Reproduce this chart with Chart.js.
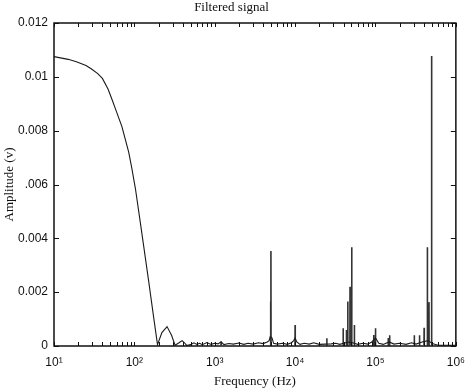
<!DOCTYPE html>
<html>
<head>
<meta charset="utf-8">
<title>Filtered signal</title>
<script src="https://cdn.jsdelivr.net/npm/chart.js@4/dist/chart.umd.min.js"></script>
<style>
  body { margin: 0; background: #fff; }
  #wrap { width: 474px; height: 390px; }
</style>
</head>
<body>
<div id="wrap"><canvas id="chart"></canvas></div>
<script>
// low frequency response + noise floor (Hz / volts)
var curveFreq = [10, 15, 19, 25, 29, 35, 40, 47, 53, 60, 70, 85, 93, 103, 120, 150, 175, 194,
                 220, 255, 290, 321, 360, 392, 420, 447,
                 500, 550, 600, 650, 700, 800, 900, 1000, 1100, 1200, 1300, 1500, 1700, 2000,
                 2300, 2600, 3000, 3500, 4000, 4500, 4750, 4900, 5150, 5400,
                 6000, 7000, 8000, 9000, 9600, 10000, 10500, 11500, 13000, 15000, 17000, 20000,
                 28000, 32000, 36000, 40000, 47000, 52000, 60000, 70000, 80000, 90000, 100000,
                 110000, 125000, 148000, 170000, 200000, 240000, 280000, 320000, 380000, 450000,
                 520000, 600000, 700000, 1000000];
var curveAmp = [0.01075, 0.01065, 0.01056, 0.01042, 0.0103, 0.01012, 0.00994, 0.00955, 0.00914,
                0.0087, 0.00815, 0.0072, 0.0066, 0.00585, 0.00448, 0.00245, 0.0010, 0.00005,
                0.0005, 0.00072, 0.0004, 0.00003, 0.00012, 0.0002, 0.00012, 0.00002,
                0.00005, 0.00012, 0.00006, 0.0001, 0.00005, 0.00013, 0.00006, 0.0001, 0.00008,
                0.00016, 0.00005, 0.00009, 0.00007, 0.00011, 0.00006, 0.0001, 0.00007, 0.00012,
                0.00009, 0.00015, 0.0002, 0.00035, 0.0003, 0.0001,
                0.00007, 0.0001, 0.00006, 0.00012, 0.0002, 0.0003, 0.00015, 0.00006, 0.0001,
                0.00007, 0.00012, 0.00006,
                0.00008, 0.0001, 0.00006, 0.0001, 0.00015, 0.00012, 0.00006, 0.0001, 0.00007,
                0.00015, 0.0003, 0.0001, 0.00006, 0.00015, 0.00007, 0.0001, 0.00006, 0.00012,
                0.00007, 0.00015, 0.0002, 0.00008, 0.00003, 0.00003, 0.00003];

// narrow harmonic spikes
var spikeFreq = [1200, 4960, 5000, 10000, 24800, 39600, 43500, 45200, 48200, 50600, 54600,
                 95000, 97000, 100000, 144000, 150000, 304000, 353000, 403000, 442000,
                 463000, 499000];
var spikeAmp = [0.00016, 0.00165, 0.00353, 0.00078, 0.00029, 0.00066, 0.00059, 0.00165, 0.0022,
                0.00367, 0.00078, 0.00041, 0.00022, 0.00066, 0.0003, 0.0004, 0.0004, 0.0004,
                0.00068, 0.00367, 0.00163, 0.01077];

var yTickValues = [0, 0.002, 0.004, 0.006, 0.008, 0.01, 0.012];
var yTickLabels = ['0', '0.002', '0.004', '.006', '0.008', '0.01', '0.012'];
var xDecadeLabels = {1: '10\u00b9', 2: '10\u00b2', 3: '10\u00b3', 4: '10\u2074', 5: '10\u2075', 6: '10\u2076'};

var curvePoints = curveFreq.map(function(f, i) { return {x: f, y: curveAmp[i]}; });

// each spike is a thin up/down stroke, broken from the next by a null point
var spikePoints = [];
spikeFreq.forEach(function(f, i) {
    spikePoints.push({x: f * 0.996, y: 0.00003});
    spikePoints.push({x: f, y: spikeAmp[i]});
    spikePoints.push({x: f * 1.004, y: 0.00003});
    spikePoints.push({x: f * 1.005, y: null});
});

// closed box with inward ticks on all four sides, matlab style
var boxTicks = {
    id: 'boxTicks',
    afterDatasetsDraw: function(chart) {
        var ctx = chart.ctx, a = chart.chartArea;
        var xs = chart.scales.x, ys = chart.scales.y;
        ctx.save();
        ctx.strokeStyle = '#111';
        ctx.lineWidth = 1;
        ctx.beginPath();
        xs.ticks.forEach(function(t) {
            var px = Math.round(xs.getPixelForValue(t.value)) + 0.5;
            ctx.moveTo(px, a.bottom); ctx.lineTo(px, a.bottom - 4);
            ctx.moveTo(px, a.top); ctx.lineTo(px, a.top + 4);
        });
        ys.ticks.forEach(function(t) {
            var py = Math.round(ys.getPixelForValue(t.value)) + 0.5;
            ctx.moveTo(a.left, py); ctx.lineTo(a.left + 5, py);
            ctx.moveTo(a.right, py); ctx.lineTo(a.right - 5, py);
        });
        ctx.stroke();
        ctx.lineWidth = 1.5;
        ctx.strokeRect(a.left, a.top, a.right - a.left, a.bottom - a.top);
        ctx.restore();
    }
};

new Chart(document.getElementById('chart'), {
    type: 'line',
    data: {
        datasets: [
            {data: curvePoints, borderColor: '#1a1a1a', borderWidth: 1.1},
            {data: spikePoints, borderColor: '#333', borderWidth: 1.6, spanGaps: false}
        ]
    },
    options: {
        responsive: true,
        maintainAspectRatio: false,
        animation: false,
        layout: {padding: {top: 0, right: 11, bottom: 0, left: 0}},
        elements: {point: {radius: 0}, line: {tension: 0}},
        plugins: {
            legend: {display: false},
            tooltip: {enabled: false},
            title: {
                display: true,
                text: 'Filtered signal',
                color: '#111',
                font: {family: 'Liberation Serif', size: 13, weight: 'normal'},
                padding: {top: 0, bottom: 7.4}
            }
        },
        scales: {
            x: {
                type: 'logarithmic',
                min: 10,
                max: 1000000,
                grid: {display: false, drawTicks: false},
                border: {display: false},
                afterBuildTicks: function(scale) {
                    var ticks = [];
                    for (var k = 1; k < 6; k++) {
                        for (var m = 1; m < 10; m++) ticks.push({value: m * Math.pow(10, k)});
                    }
                    ticks.push({value: 1000000});
                    scale.ticks = ticks;
                },
                afterFit: function(scale) { scale.height = 44; },
                ticks: {
                    autoSkip: false,
                    maxRotation: 0,
                    padding: 9,
                    color: '#111',
                    font: {family: 'Liberation Sans', size: 12},
                    callback: function(value) {
                        var e = Math.round(Math.log10(value));
                        return Math.abs(value - Math.pow(10, e)) < 1e-6 * value ? xDecadeLabels[e] : '';
                    }
                },
                title: {
                    display: true,
                    text: 'Frequency (Hz)',
                    color: '#111',
                    font: {family: 'Liberation Serif', size: 13},
                    padding: {top: 0, bottom: 0.5}
                }
            },
            y: {
                min: 0,
                max: 0.012,
                grid: {display: false, drawTicks: false},
                border: {display: false},
                afterBuildTicks: function(scale) {
                    scale.ticks = yTickValues.map(function(v) { return {value: v}; });
                },
                afterFit: function(scale) { scale.width = 54; },
                ticks: {
                    padding: 6,
                    color: '#111',
                    font: {family: 'Liberation Sans', size: 12},
                    callback: function(value, index) { return yTickLabels[index]; }
                },
                title: {
                    display: true,
                    text: 'Amplitude (v)',
                    color: '#111',
                    font: {family: 'Liberation Serif', size: 13},
                    padding: {top: 2, bottom: 0}
                }
            }
        }
    },
    plugins: [boxTicks]
});
</script>
</body>
</html>
